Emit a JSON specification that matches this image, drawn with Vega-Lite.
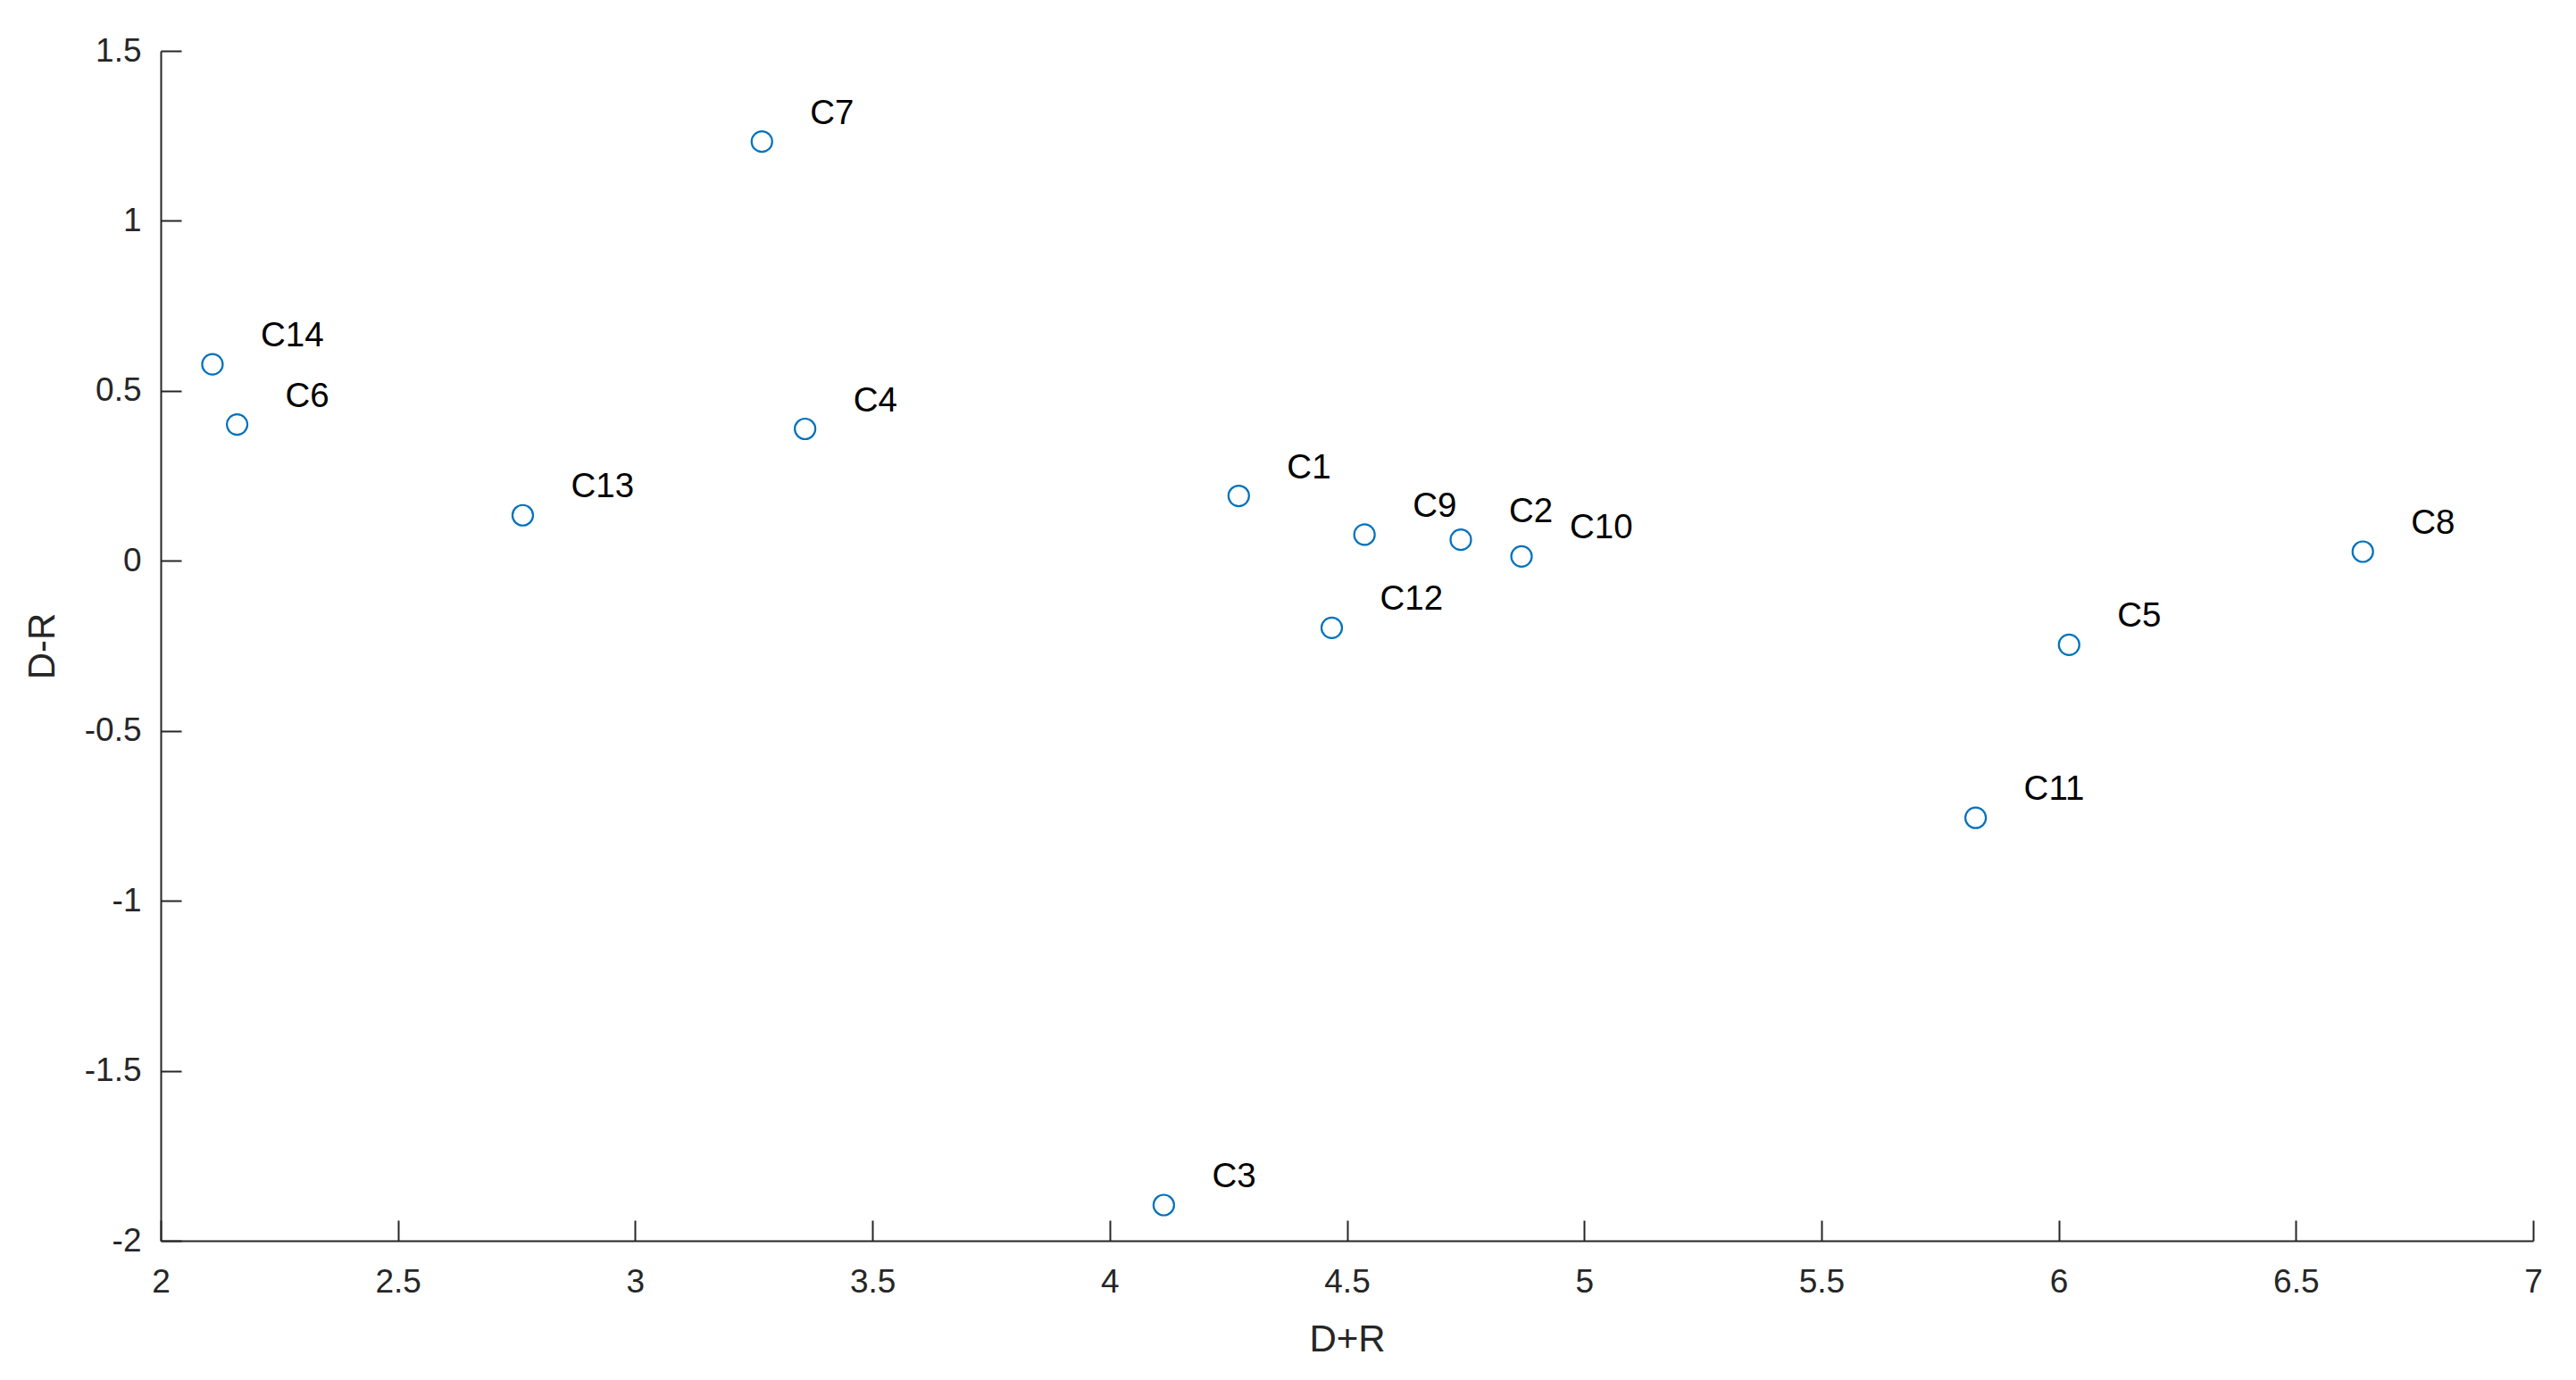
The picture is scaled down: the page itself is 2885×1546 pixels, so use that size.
{
  "$schema": "https://vega.github.io/schema/vega-lite/v6.json",
  "width": 2657,
  "height": 1333,
  "autosize": {"type": "none"},
  "padding": {"left": 180, "top": 57, "right": 48, "bottom": 156},
  "background": "white",
  "config": {
    "view": {"stroke": null},
    "font": "Liberation Sans",
    "axis": {
      "grid": false,
      "domainColor": "#262626",
      "domainWidth": 2,
      "tickColor": "#262626",
      "tickWidth": 2,
      "tickSize": -23,
      "labelColor": "#262626",
      "labelFont": "Liberation Sans",
      "labelFontSize": 37,
      "titleFont": "Liberation Sans",
      "titleFontSize": 42,
      "titleFontWeight": "normal",
      "titleColor": "#262626",
      "labelFlush": false,
      "labelOverlap": false
    }
  },
  "data": {
    "values": [
      {"name": "C1", "dpr": 4.272, "dmr": 0.191},
      {"name": "C2", "dpr": 4.740, "dmr": 0.062},
      {"name": "C3", "dpr": 4.114, "dmr": -1.895},
      {"name": "C4", "dpr": 3.358, "dmr": 0.388},
      {"name": "C5", "dpr": 6.022, "dmr": -0.247},
      {"name": "C6", "dpr": 2.161, "dmr": 0.401},
      {"name": "C7", "dpr": 3.267, "dmr": 1.233},
      {"name": "C8", "dpr": 6.641, "dmr": 0.027},
      {"name": "C9", "dpr": 4.537, "dmr": 0.077},
      {"name": "C10", "dpr": 4.868, "dmr": 0.013},
      {"name": "C11", "dpr": 5.825, "dmr": -0.756},
      {"name": "C12", "dpr": 4.468, "dmr": -0.197},
      {"name": "C13", "dpr": 2.763, "dmr": 0.134},
      {"name": "C14", "dpr": 2.109, "dmr": 0.578}
    ]
  },
  "encoding": {
    "x": {
      "field": "dpr",
      "type": "quantitative",
      "title": "D+R",
      "scale": {"domain": [2, 7], "nice": false, "zero": false},
      "axis": {
        "values": [2, 2.5, 3, 3.5, 4, 4.5, 5, 5.5, 6, 6.5, 7],
        "labelExpr": "'' + datum.value",
        "labelPadding": 51,
        "titlePadding": 26
      }
    },
    "y": {
      "field": "dmr",
      "type": "quantitative",
      "title": "D-R",
      "scale": {"domain": [-2, 1.5], "nice": false, "zero": false},
      "axis": {
        "values": [-2, -1.5, -1, -0.5, 0, 0.5, 1, 1.5],
        "labelExpr": "'' + datum.value",
        "labelPadding": 45,
        "titlePadding": 25
      }
    }
  },
  "layer": [
    {
      "mark": {"type": "point", "shape": "circle", "filled": false, "size": 530, "strokeWidth": 2.2, "color": "#0072BD", "opacity": 1}
    },
    {
      "mark": {"type": "text", "align": "left", "baseline": "alphabetic", "dx": 54, "dy": -20, "fontSize": 38.5, "font": "Liberation Sans", "color": "#000000"},
      "encoding": {"text": {"field": "name"}}
    }
  ]
}
